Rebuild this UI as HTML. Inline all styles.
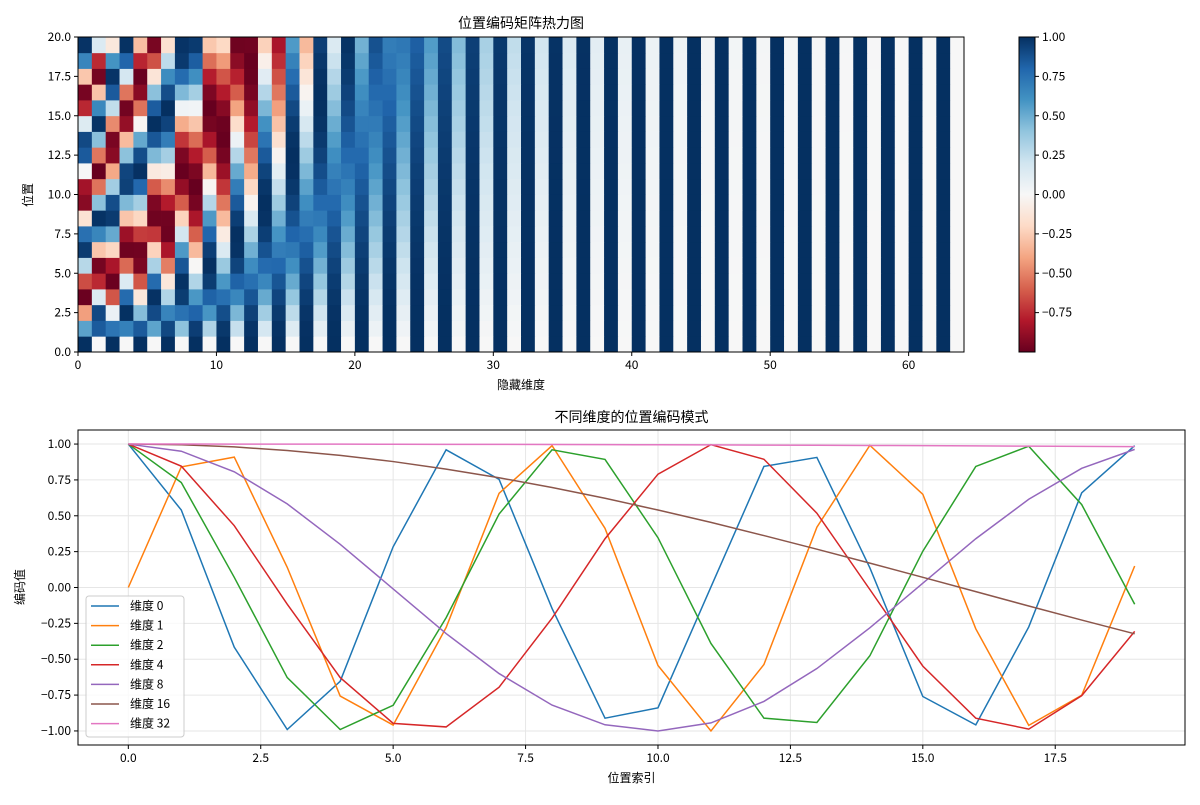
<!DOCTYPE html>
<html><head><meta charset="utf-8"><style>
body{margin:0;background:#fff;}
svg text{font-family:"WenQuanYi Zen Hei","Noto Sans CJK SC",sans-serif;fill:#000;}
</style></head><body>
<svg id="c" width="1200" height="800" xmlns="http://www.w3.org/2000/svg"></svg>
<script>
// ---- data ----
const positions = [0,1,2,3,4,5,6,7,8,9,10,11,12,13,14,15,16,17,18,19];
const seriesNames = ["维度 0","维度 1","维度 2","维度 4","维度 8","维度 16","维度 32"];
const dim0 = [1,0.540,-0.416,-0.990,-0.654,0.284,0.960,0.754,-0.146,-0.911,-0.839,0.004,0.844,0.907,0.137,-0.760,-0.958,-0.275,0.660,0.989];
const dim1 = [0,0.841,0.909,0.141,-0.757,-0.959,-0.279,0.657,0.989,0.412,-0.544,-1.0,-0.537,0.420,0.991,0.650,-0.288,-0.961,-0.751,0.150];
const dim2 = [1,0.732,0.071,-0.628,-0.990,-0.821,-0.211,0.512,0.960,0.893,0.347,-0.390,-0.911,-0.941,-0.476,0.253,0.844,0.985,0.578,-0.117];
const dim4 = [1,0.846,0.431,-0.116,-0.628,-0.947,-0.972,-0.695,-0.214,0.340,0.790,0.996,0.894,0.518,-0.014,-0.548,-0.911,-0.987,-0.754,-0.306];
const dim8 = [1,0.950,0.807,0.583,0.301,-0.010,-0.321,-0.600,-0.820,-0.957,-1.0,-0.944,-0.794,-0.565,-0.281,0.030,0.340,0.615,0.831,0.963];
const dim16 = [1,0.995,0.980,0.955,0.921,0.878,0.825,0.765,0.697,0.622,0.540,0.454,0.362,0.267,0.170,0.071,-0.029,-0.129,-0.227,-0.323];
const dim32 = [1,1.0,0.9998,0.9996,0.9992,0.9988,0.9982,0.9976,0.9968,0.9960,0.9950,0.9940,0.9928,0.9916,0.9902,0.9888,0.9872,0.9856,0.9838,0.9820];
const seriesValues = [dim0,dim1,dim2,dim4,dim8,dim16,dim32];
const seriesColors = ["#1f77b4","#ff7f0e","#2ca02c","#d62728","#9467bd","#8c564b","#e377c2"];
const hiddenDims = 64;
const heatRows = 20;
const freqBase = 10000;
const heatXTicks = [0,10,20,30,40,50,60];
const heatYTicks = [0,2.5,5,7.5,10,12.5,15,17.5,20];
const cbTicks = [1,0.75,0.5,0.25,0,-0.25,-0.5,-0.75];
const lineXTicks = [0,2.5,5,7.5,10,12.5,15,17.5];
const lineYTicks = [1,0.75,0.5,0.25,0,-0.25,-0.5,-0.75,-1];

const NS="http://www.w3.org/2000/svg";
const svg=document.getElementById('c');
function el(tag,attrs,parent){const e=document.createElementNS(NS,tag);for(const k in attrs)e.setAttribute(k,attrs[k]);(parent||svg).appendChild(e);return e;}
function txt(s,x,y,attrs,parent){const t=el('text',Object.assign({x:x,y:y,'font-size':12},attrs||{}),parent);t.textContent=s;return t;}
function fmt(v,d){return v.toFixed(d).replace('-','\u2212');}

const stops=["#67001f","#b2182b","#d6604d","#f4a582","#fddbc7","#f7f7f7","#d1e5f0","#92c5de","#4393c3","#2166ac","#053061"];
function hex(h){return [1,3,5].map(i=>parseInt(h.substr(i,2),16));}
function cmap(v){let t=(v+1)/2;t=Math.max(0,Math.min(1,t));const p=t*10;const i=Math.min(9,Math.floor(p));const f=p-i;const a=hex(stops[i]),b=hex(stops[i+1]);return 'rgb('+a.map((c,k)=>Math.round(c+(b[k]-c)*f)).join(',')+')';}

// ---- heatmap ----
const H={l:78,r:964,t:37,b:352};
const hx=d=>H.l+(d/hiddenDims)*(H.r-H.l);
const hy=p=>H.b-(p/heatRows)*(H.b-H.t);
const gHeat=el('g',{});


for(let p=0;p<heatRows;p++){for(let d=0;d<hiddenDims;d++){
  const k=d-(d%2);const ang=p/Math.pow(freqBase,k/hiddenDims);
  const v=d%2===0?Math.cos(ang):Math.sin(ang);
  const r=el('rect',{x:hx(d),y:hy(p+1),width:hx(d+1)-hx(d)+0.4,height:hy(p)-hy(p+1)+0.4,fill:cmap(v)},gHeat);
  
  
}}
el('rect',{x:H.l,y:H.t,width:H.r-H.l,height:H.b-H.t,fill:'none',stroke:'#000','stroke-width':1});
heatXTicks.forEach(v=>{const x=hx(v);el('line',{x1:x,x2:x,y1:H.b,y2:H.b+4,stroke:'#000'});const t=txt(String(v),x,H.b+17,{'text-anchor':'middle'});});
heatYTicks.forEach(v=>{const y=hy(v);el('line',{x1:H.l-4,x2:H.l,y1:y,y2:y,stroke:'#000'});const t=txt(v.toFixed(1),H.l-7,y+4,{'text-anchor':'end'});});
let t1=txt('位置编码矩阵热力图',(H.l+H.r)/2,28,{'text-anchor':'middle','font-size':14});
let t2=txt('隐藏维度',(H.l+H.r)/2,389,{'text-anchor':'middle'});
let t3=txt('位置',32,195,{'text-anchor':'middle',transform:'rotate(-90 32 195)'});

// ---- colorbar ----
const C={l:1019,r:1035,t:37,b:352};
const cy=v=>C.b-((v+1)/2)*(C.b-C.t);
const grad=el('linearGradient',{id:'g',x1:0,y1:1,x2:0,y2:0},el('defs',{}));
stops.forEach((s,i)=>el('stop',{offset:i/10,'stop-color':s},grad));
const cb=el('rect',{x:C.l,y:C.t,width:C.r-C.l,height:C.b-C.t,fill:'url(#g)',stroke:'#000'});

cbTicks.forEach(v=>{const y=cy(v);el('line',{x1:C.r,x2:C.r+4,y1:y,y2:y,stroke:'#000'});const t=txt(fmt(v,2),C.r+7,y+4,{});});

// ---- line chart ----
const L={l:78,r:1185,t:430,b:745,x0:-0.95,x1:19.95,y0:-1.098,y1:1.098};
const lx=v=>L.l+(v-L.x0)/(L.x1-L.x0)*(L.r-L.l);
const ly=v=>L.b-(v-L.y0)/(L.y1-L.y0)*(L.b-L.t);
lineXTicks.forEach(v=>{const x=lx(v);el('line',{x1:x,x2:x,y1:L.t,y2:L.b,stroke:'#e6e6e6'});el('line',{x1:x,x2:x,y1:L.b,y2:L.b+4,stroke:'#000'});const t=txt(v.toFixed(1),x,L.b+17,{'text-anchor':'middle'});});
lineYTicks.forEach(v=>{const y=ly(v);el('line',{x1:L.l,x2:L.r,y1:y,y2:y,stroke:'#e6e6e6'});el('line',{x1:L.l-4,x2:L.l,y1:y,y2:y,stroke:'#000'});const t=txt(fmt(v,2),L.l-7,y+4,{'text-anchor':'end'});});
seriesValues.forEach((vals,i)=>{const pl=el('polyline',{points:vals.map((v,j)=>lx(positions[j])+','+ly(v)).join(' '),fill:'none',stroke:seriesColors[i],'stroke-width':1.5});
  });
el('rect',{x:L.l,y:L.t,width:L.r-L.l,height:L.b-L.t,fill:'none',stroke:'#000'});
let t4=txt('不同维度的位置编码模式',(L.l+L.r)/2,422,{'text-anchor':'middle','font-size':14});
let t5=txt('位置索引',(L.l+L.r)/2,782,{'text-anchor':'middle'});
let t6=txt('编码值',24,587,{'text-anchor':'middle',transform:'rotate(-90 24 587)'});
// legend
const lg=el('g',{});
el('rect',{x:86,y:596,width:98,height:141,rx:3,fill:'#fff','fill-opacity':0.8,stroke:'#ccc'},lg);
seriesNames.forEach((n,i)=>{const y=606+i*19.6;const g=el('g',{},lg);
  el('line',{x1:91,x2:119,y1:y,y2:y,stroke:seriesColors[i],'stroke-width':1.5},g);txt(n,130,y+4,{},g);});
</script>
</body></html>
